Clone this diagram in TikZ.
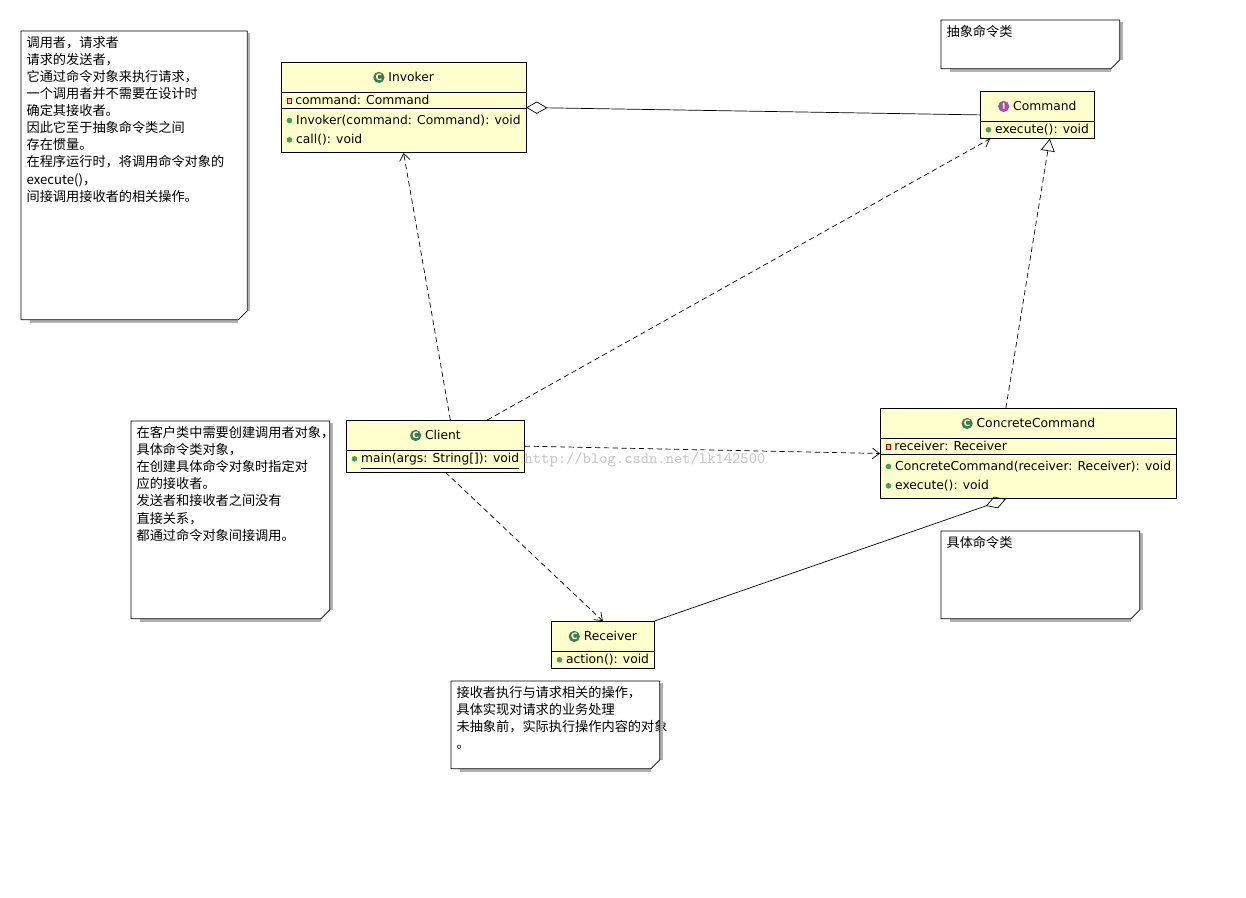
\documentclass[tikz,border=0pt]{standalone}
\usepackage{fontspec}
\setmainfont{Noto Sans CJK SC}
\newfontfamily\classfont{DejaVu Sans}
\usetikzlibrary{shapes.multipart,arrows.meta}
\definecolor{umlfill}{RGB}{255,255,206}
\definecolor{pubgreen}{RGB}{70,160,90}
\tikzset{icontext/.style={shape=rectangle,anchor=center,draw=none,fill=none,text=white,
  inner sep=0pt,outer sep=0pt,minimum width=0pt,minimum height=0pt,
  font=\fontsize{5}{5}\selectfont\bfseries}}
\newcommand{\clsicon}[1]{\tikz[baseline=-0.6ex]{\fill[pubgreen!80!black] (0,0) circle (3.2pt);
  \path (0,0) node[icontext] {#1};}}
\newcommand{\ifcicon}{\tikz[baseline=-0.6ex]{\fill[violet!70] (0,0) circle (3.2pt);
  \path (0,0) node[icontext] {I};}}
\newcommand{\pub}{\tikz[baseline=-0.6ex]\fill[pubgreen] (0,0) circle (1.6pt);\ }
\newcommand{\priv}{\tikz[baseline=-0.6ex]\draw[red!70!black,fill=red!20] (-1.2pt,-1.2pt) rectangle (1.2pt,1.2pt);\ }
\newcommand{\ttl}[1]{\rule[-1.2ex]{0pt}{3.6ex}#1}
\newcommand{\rows}[1]{\begin{tabular}{@{}l@{}}#1\end{tabular}}
\newcommand{\notetext}[3]{\parbox[t][#2][t]{#1}{#3}}
\begin{document}
\begin{tikzpicture}[x=0.02cm,y=-0.02cm,
    class/.style={rectangle split,draw,fill=umlfill,anchor=north west,
      rectangle split part align={center,left,left},
      font=\classfont\fontsize{7}{11}\selectfont,inner xsep=3pt,inner ysep=1.5pt},
    note/.style={anchor=north west,inner sep=3pt,
      font=\fontsize{7.5}{9.7}\selectfont},
    dep/.style={densely dashed,-{Straight Barb[length=4pt,width=6pt]},thin},
    agg/.style={{Diamond[open,length=12pt,width=7pt]}-,thin}]

  \useasboundingbox (0,0) rectangle (1246,898);

  % Classes
  \node[class,rectangle split parts=3,minimum width=4.64cm] (invoker) at (281,62)
    {\ttl{\clsicon{C} Invoker}
     \nodepart{two}\priv command: Command
     \nodepart{three}\rows{\pub Invoker(command: Command): void\\\pub call(): void}};
  \node[class,rectangle split parts=2,minimum width=2.14cm] (command) at (980,91)
    {\ttl{\ifcicon\ Command}
     \nodepart{two}\pub execute(): void};
  \node[class,rectangle split parts=2,minimum width=3.34cm] (client) at (346,420)
    {\ttl{\clsicon{C} Client}
     \nodepart{two}\pub \underline{main(args: String[]): void}};
  \node[class,rectangle split parts=3,minimum width=5.56cm] (concrete) at (880,408)
    {\ttl{\clsicon{C} ConcreteCommand}
     \nodepart{two}\priv receiver: Receiver
     \nodepart{three}\rows{\pub ConcreteCommand(receiver: Receiver): void\\\pub execute(): void}};
  \node[class,rectangle split parts=2,minimum width=1.94cm] (receiver) at (551,621)
    {\ttl{\clsicon{C} Receiver}
     \nodepart{two}\pub action(): void};

  % Notes
  \node[note] (noteinv) at (21,31) {\notetext{4.3cm}{5.55cm}
    {调用者，请求者\\请求的发送者，\\它通过命令对象来执行请求，\\一个调用者并不需要在设计时\\确定其接收者。\\因此它至于抽象命令类之间\\存在惯量。\\在程序运行时，将调用命令对象的\\execute()，\\间接调用接收者的相关操作。}};
  \node[note] (notecmd) at (941,20) {\notetext{3.35cm}{0.75cm}{抽象命令类}};
  \node[note] (notecli) at (131,421) {\notetext{3.75cm}{3.73cm}
    {在客户类中需要创建调用者对象，\\具体命令类对象，\\在创建具体命令对象时指定对\\应的接收者。\\发送者和接收者之间没有\\直接关系，\\都通过命令对象间接调用。}};
  \node[note] (noteconc) at (941,531) {\notetext{3.75cm}{1.53cm}{具体命令类}};
  \node[note] (noterec) at (451,681) {\notetext{3.95cm}{1.53cm}
    {接收者执行与请求相关的操作，\\具体实现对请求的业务处理\\未抽象前，实际执行操作内容的对象\\。}};
  \foreach \n in {noteinv,notecmd,notecli,noteconc,noterec} {
    \draw[gray!60,line width=1.5pt] ([xshift=1pt,yshift=-1pt]\n.north east) -- ([xshift=1pt,yshift=5pt]\n.south east);
    \draw[gray!60,line width=1.5pt] ([xshift=5pt,yshift=-1pt]\n.south west) -- ([xshift=-5pt,yshift=-1pt]\n.south east);
    \draw[thin] (\n.north west) -- (\n.north east) -- ([yshift=5pt]\n.south east)
      -- ([xshift=-5pt]\n.south east) -- (\n.south west) -- cycle;
  }

  % Watermark
  \node[text=gray!45,font=\ttfamily\small] (mark) at (645,460) {http://blog.csdn.net/lk142500};

  % Relations
  \draw[agg] (invoker.east) -- (command.west);
  \draw[dep] (client.north) ++(0.3cm,0) coordinate (c1) (c1) -- (invoker.south);
  \draw[dep] (client.north east) ++(-0.75cm,0) coordinate (c2) (c2) -- ([xshift=0.2cm]command.south west);
  \draw[dep] (client.east) -- (concrete.west);
  \draw[dep] (client.south) ++(0.2cm,0) coordinate (c3) (c3) -- (receiver.north);
  \draw[densely dashed,thin,-{Triangle[open,length=7pt,width=8pt]}]
    ([xshift=-0.45cm]concrete.north) -- ([xshift=0.25cm]command.south);
  \draw[agg] ([xshift=-0.45cm]concrete.south) -- (receiver.north east);
\end{tikzpicture}
\end{document}
